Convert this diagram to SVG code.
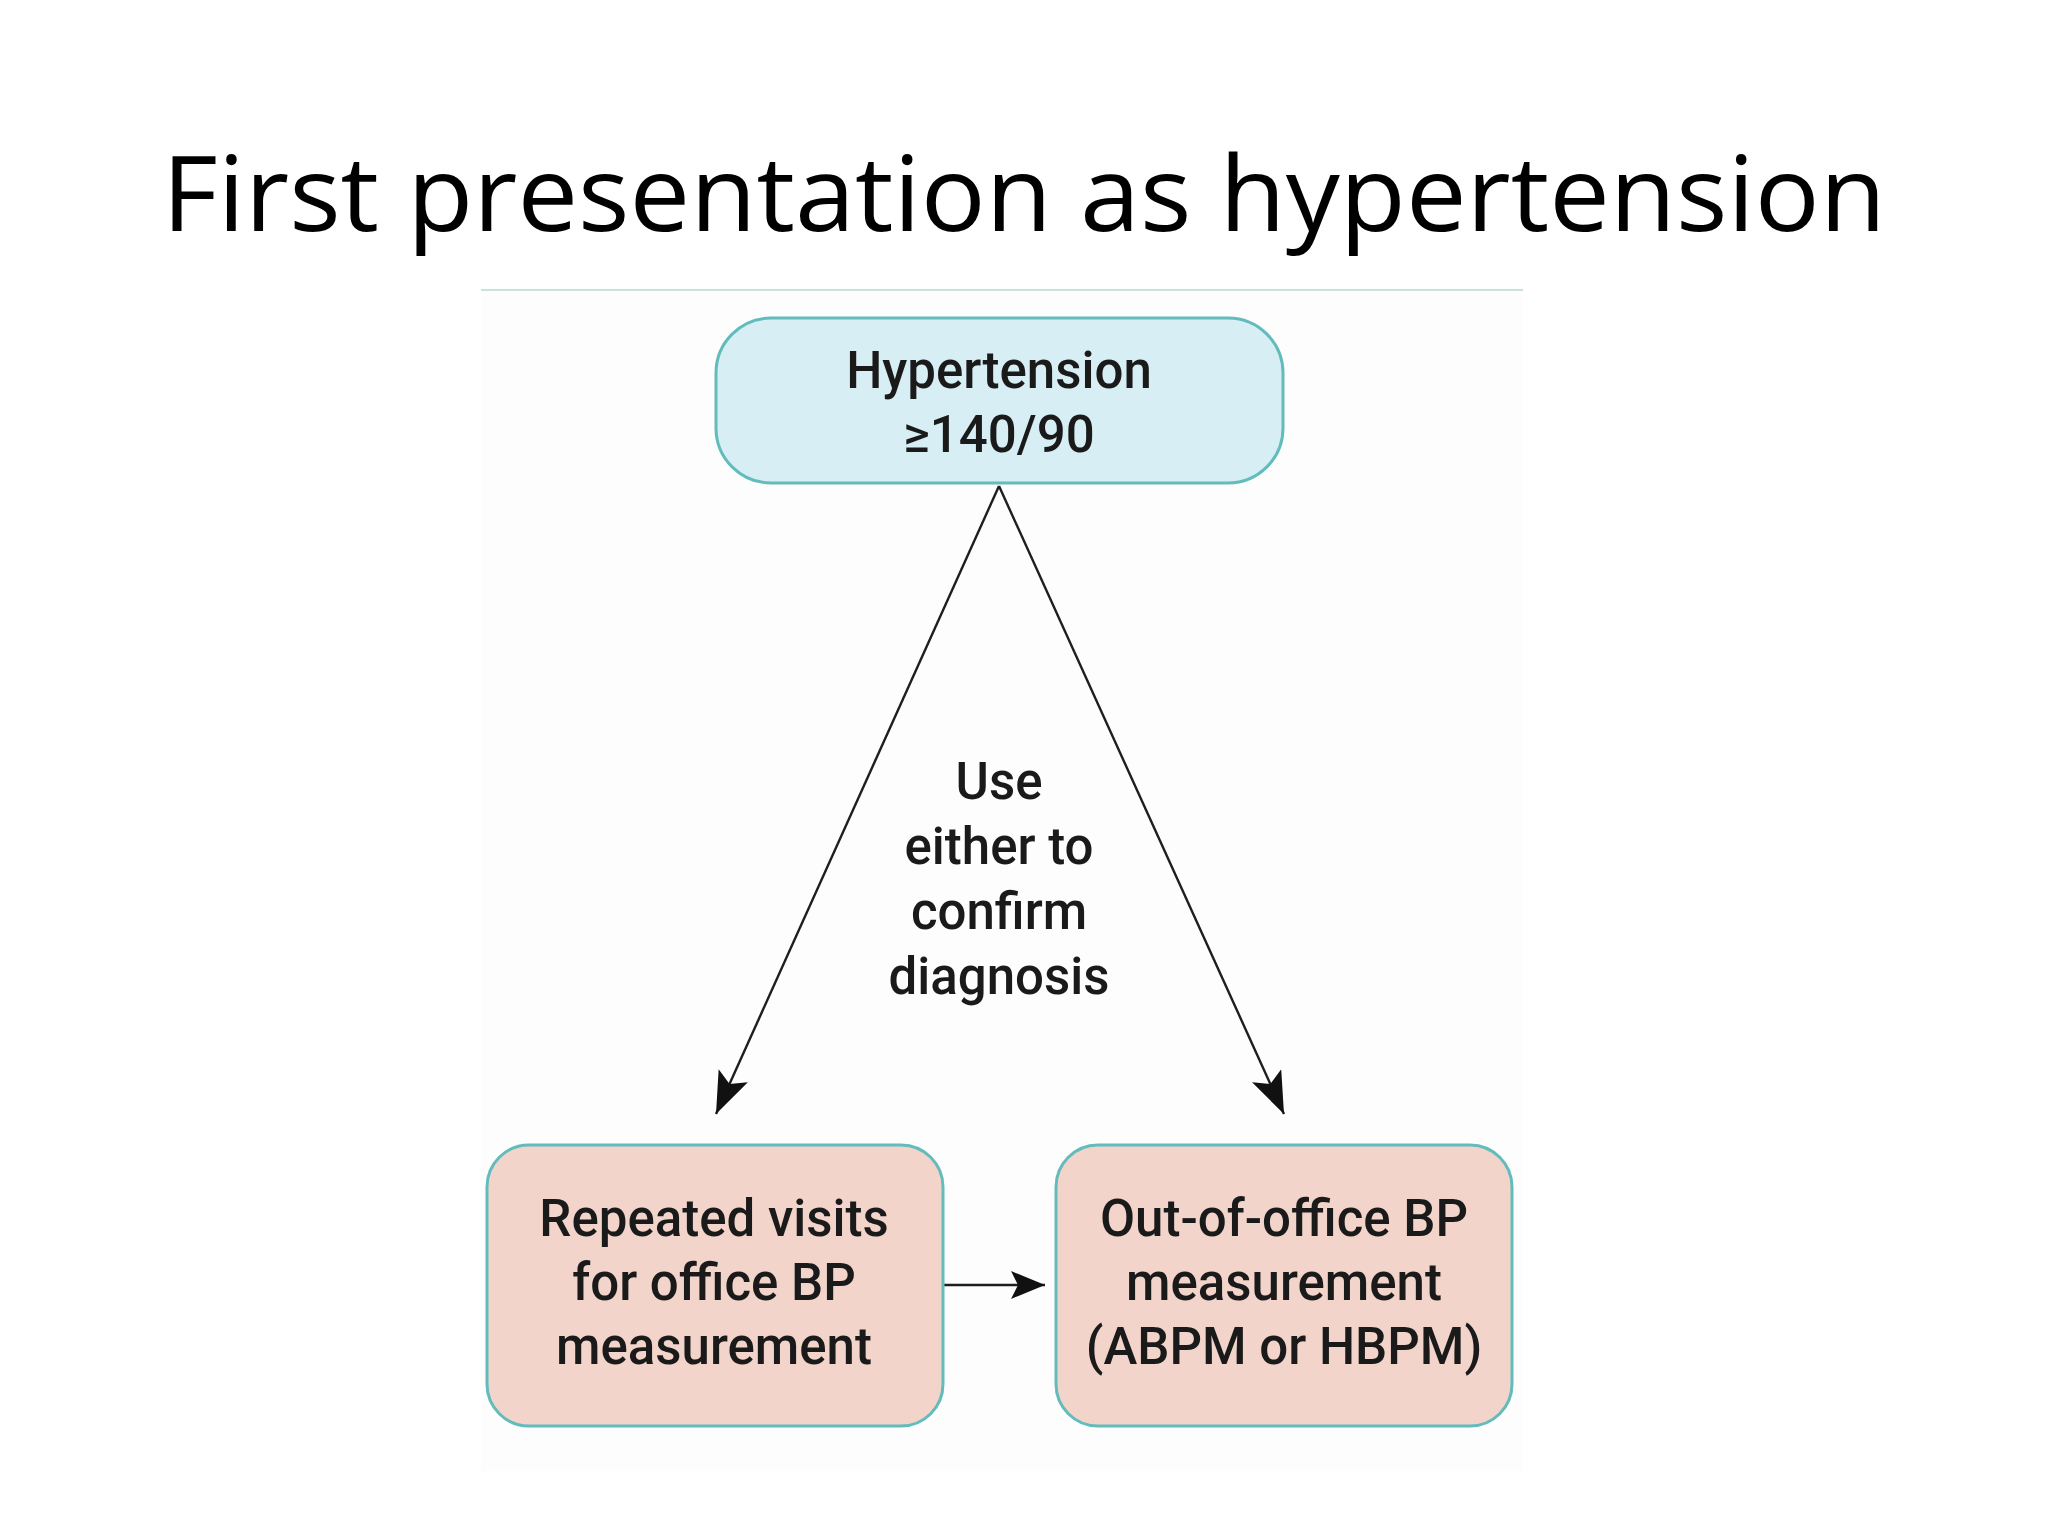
<svg xmlns="http://www.w3.org/2000/svg" width="2048" height="1536" viewBox="0 0 2048 1536">
<defs>
<style>
.title{font-family:"Open Sans","Liberation Sans",sans-serif;font-size:104px;fill:#000}
.lbl{font-family:Roboto,"Liberation Sans",sans-serif;font-size:51px;font-weight:500;fill:#1a1a1a;text-anchor:middle}
.blue{fill:#d6eef4;stroke:#62bcbc;stroke-width:3}
.pink{fill:#f2d4cb;stroke:#62bcbc;stroke-width:3}
.edge{stroke:#1e1e1e;stroke-width:2.4;fill:none}
</style>
<marker id="ah" markerWidth="44" markerHeight="34" refX="42" refY="16" orient="auto" markerUnits="userSpaceOnUse">
<path d="M0,0 L42,16 L0,32 L9,16 Z" fill="#111"/>
</marker>
<marker id="ah2" markerWidth="36" markerHeight="30" refX="34" refY="14" orient="auto" markerUnits="userSpaceOnUse">
<path d="M0,0 L34,14 L0,28 L7,14 Z" fill="#111"/>
</marker>
</defs>
<rect width="2048" height="1536" fill="#ffffff"/>
<rect x="481" y="291" width="1042" height="1180" fill="#fdfdfd"/>
<text class="title" x="162" y="231" textLength="1724" lengthAdjust="spacingAndGlyphs">First presentation as hypertension</text>
<line x1="481" y1="290" x2="1523" y2="290" stroke="#c9e2e0" stroke-width="2"/>
<g id="connectors">
<line class="edge" x1="999" y1="486" x2="716" y2="1114" marker-end="url(#ah)"/>
<line class="edge" x1="999" y1="486" x2="1284" y2="1114" marker-end="url(#ah)"/>
<line class="edge" x1="943" y1="1285" x2="1045" y2="1285" marker-end="url(#ah2)"/>
<g id="edge-label">
<text class="lbl" x="999" y="799">Use</text>
<text class="lbl" x="999" y="864">either to</text>
<text class="lbl" x="999" y="929">confirm</text>
<text class="lbl" x="999" y="994">diagnosis</text>
</g>
</g>
<g id="node-hypertension">
<rect class="blue" x="716" y="318" width="567" height="165" rx="55"/>
<text class="lbl" x="999" y="388">Hypertension</text>
<text class="lbl" x="999" y="452">≥140/90</text>
</g>
<g id="node-repeated">
<rect class="pink" x="487" y="1145" width="456" height="281" rx="42"/>
<text class="lbl" x="714" y="1236">Repeated visits</text>
<text class="lbl" x="714" y="1300">for office BP</text>
<text class="lbl" x="714" y="1364">measurement</text>
</g>
<g id="node-outofoffice">
<rect class="pink" x="1056" y="1145" width="456" height="281" rx="42"/>
<text class="lbl" x="1284" y="1236">Out-of-office BP</text>
<text class="lbl" x="1284" y="1300">measurement</text>
<text class="lbl" x="1284" y="1364">(ABPM or HBPM)</text>
</g>
</svg>
